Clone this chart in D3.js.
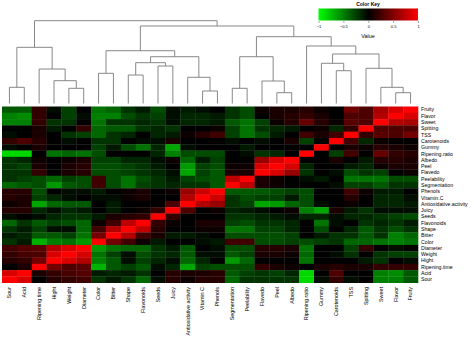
<!DOCTYPE html>
<html>
<head>
<meta charset="utf-8">
<script src="https://cdn.jsdelivr.net/npm/d3@7"></script>
<style>
  body { margin: 0; background: #fff; }
  svg { display: block; }
  text { font-family: "Liberation Sans", Arial, sans-serif; fill: #000; }
</style>
</head>
<body>
<svg id="chart" width="474" height="342"></svg>
<script>
// Traits in clustered column order (left to right)
const traits = ["Sour", "Acid", "Ripening time", "Hight", "Weight", "Diameter", "Color", "Bitter",
  "Shape", "Flavonoids", "Seeds", "Juicy", "Antioxidative activity", "Vitamin C", "Phenols",
  "Segmentation", "Peelability", "Flavedo", "Peel", "Albedo", "Ripening ratio", "Gummy",
  "Carotenoids", "TSS", "Spitting", "Sweet", "Flavor", "Fruity"];

// Row labels, top to bottom (reverse trait order)
const rowLabels = ["Fruity", "Flavor", "Sweet", "Spitting", "TSS", "Carotenoids", "Gummy",
  "Ripening.ratio", "Albedo", "Peel", "Flavedo", "Peelability", "Segmentation", "Phenols",
  "Vitamin.C", "Antioxidative.activity", "Juicy", "Seeds", "Flavonoids", "Shape", "Bitter",
  "Color", "Diameter", "Weight", "Hight", "Ripening.time", "Acid", "Sour"];

// Lower triangle of the correlation matrix (trait order); diagonal = 1
const corrLower = [
  [],
  [0.85],
  [0, 0.1],
  [0.15, 0.2, 0.45],
  [0.2, 0.28, 0.3, 0.85],
  [0.25, 0.32, 0.35, 0.7, 0.85],
  [-0.2, -0.1, -0.7, -0.5, -0.45, -0.6],
  [-0.1, -0.15, -0.35, -0.35, -0.25, -0.45, 0.45],
  [-0.2, -0.1, -0.25, -0.05, -0.05, -0.4, 0.25, 0.7],
  [-0.4, -0.2, -0.35, -0.25, -0.3, -0.4, 0.05, 0.25, 0.75],
  [-0.05, 0, -0.05, -0.15, -0.2, -0.2, -0.1, 0.1, 0.15, 0.2],
  [0.15, 0.15, -0.15, -0.05, -0.15, -0.1, 0, -0.1, 0, 0.05, 0.2],
  [0.05, 0.1, -0.65, -0.4, -0.35, -0.35, 0, -0.1, 0, 0, 0, 0.3],
  [0.15, 0.1, -0.25, -0.15, -0.05, 0, -0.05, -0.05, 0.05, 0.1, 0, 0, 0.7],
  [0.15, 0.15, -0.3, 0, -0.05, -0.05, -0.1, 0, 0.05, 0.1, 0, 0.05, 0.6, 0.8],
  [-0.4, -0.35, -0.3, -0.6, -0.35, -0.3, 0.25, -0.3, -0.45, -0.25, -0.2, -0.15, -0.2, -0.2, -0.35],
  [-0.2, -0.25, -0.3, -0.4, -0.25, -0.3, 0.25, -0.3, -0.45, -0.3, -0.2, -0.1, -0.25, -0.3, -0.35, 0.75],
  [-0.2, -0.2, 0.2, 0, 0.1, 0.15, -0.3, -0.3, -0.25, -0.2, -0.15, -0.05, -0.65, -0.25, -0.35, 0.1, 0.1],
  [-0.2, -0.25, 0.1, 0, 0.1, 0.15, -0.3, -0.3, -0.25, -0.2, -0.1, 0, -0.6, -0.25, -0.3, 0.05, 0.05, 0.85],
  [-0.2, -0.15, 0.05, 0, 0.05, 0.1, -0.25, -0.25, -0.15, -0.15, -0.05, 0.05, -0.4, -0.1, -0.25, 0, 0, 0.6, 0.85],
  [-0.85, -0.85, 0, -0.45, -0.4, -0.45, -0.3, 0, 0, 0, -0.15, -0.5, -0.3, -0.3, -0.3, 0, -0.05, -0.2, -0.15, 0],
  [-0.05, 0, 0.1, 0, 0, 0, -0.25, -0.1, -0.3, -0.45, -0.15, -0.65, -0.05, 0, 0, 0, -0.1, 0, 0, 0, 0],
  [0.2, 0.3, 0.15, 0, -0.05, 0, -0.2, -0.2, 0, -0.05, -0.05, 0.1, 0, 0, 0, -0.05, 0, -0.05, 0, 0.1, -0.25, 0],
  [-0.05, 0, 0.1, 0, -0.2, -0.25, -0.4, -0.2, -0.15, 0, -0.15, -0.1, 0.05, 0.15, 0.25, -0.25, -0.45, -0.3, -0.1, 0, 0.25, 0.1, 0.25],
  [0, 0, 0.1, -0.1, 0, 0.2, -0.4, -0.35, -0.35, -0.2, -0.15, -0.2, 0, 0, 0.05, -0.25, -0.45, -0.2, -0.15, -0.1, 0, 0.05, -0.15, 0.2],
  [-0.5, -0.5, 0.2, -0.2, -0.2, 0, -0.45, -0.2, -0.2, -0.15, -0.2, -0.05, -0.15, -0.15, -0.1, -0.35, -0.45, -0.25, 0.05, 0.15, 0.4, 0.15, 0.05, 0.35, 0.3],
  [-0.5, -0.55, 0.2, 0, -0.25, -0.05, -0.5, -0.5, -0.3, -0.2, -0.25, -0.05, -0.15, -0.15, -0.1, -0.2, -0.3, 0, 0.1, 0.15, 0.2, 0.1, 0, 0.3, 0.3, 0.7],
  [-0.35, -0.35, 0.2, -0.05, -0.25, 0, -0.45, -0.4, -0.2, -0.1, -0.3, -0.05, -0.1, -0.05, 0, -0.2, -0.3, 0.05, 0.1, 0.1, 0.15, 0.05, 0, 0.45, 0.3, 0.65, 0.85]
];

// Column dendrogram: [merge height, left, right]; numbers are trait indices
const colTree = [2.0,
  [1.357, [0.391, 0, 1], [0.833, 2, [0.551, 3, [0.367, 4, 5]]]],
  [1.872,
    [1.275, [0.729, 6, 7],
      [1.13, [0.986, [0.688, 8, 9], [0.906, 10, 11]], [0.633, 12, [0.302, 13, 14]]]],
    [1.614,
      [1.13, [0.367, 15, 16], [0.543, 17, [0.261, 18, 19]]],
      [1.389, 20, [1.196, [0.971, 21, [0.792, 22, 23]], [0.85, 24, [0.391, 25, [0.261, 26, 27]]]]]]]];

const keyTicks = [-1, -0.5, 0, 0.5, 1];

const svg = d3.select("#chart");
const n = traits.length;

// full symmetric matrix from the stored triangle
const corr = d3.range(n).map(i => d3.range(n).map(j =>
  i === j ? 1 : (i > j ? corrLower[i][j] : corrLower[j][i])));

const color = d3.scaleLinear().domain([-1, 0, 1]).range(["#00ff00", "#000000", "#ff0000"]);

const x = d3.scaleBand().domain(d3.range(n)).range([2, 418]);
const y = d3.scaleBand().domain(rowLabels).range([106.5, 282.7]);

// heatmap cells
const cells = [];
rowLabels.forEach((lab, r) => {
  const ti = n - 1 - r;
  d3.range(n).forEach(c => cells.push({ row: lab, col: c, v: corr[ti][c] }));
});
svg.append("g").selectAll("rect").data(cells).join("rect")
  .attr("x", d => x(d.col))
  .attr("y", d => y(d.row))
  .attr("width", x.bandwidth() + 0.3)
  .attr("height", y.bandwidth() + 0.3)
  .attr("fill", d => color(d.v));

// row labels
svg.append("g").selectAll("text").data(rowLabels).join("text")
  .attr("x", 421)
  .attr("y", d => y(d) + y.bandwidth() / 2)
  .attr("dy", "0.35em")
  .style("font-size", "5.2px")
  .text(d => d);

// column labels (vertical)
svg.append("g").selectAll("text").data(traits).join("text")
  .attr("transform", (d, i) => `translate(${x(i) + x.bandwidth() / 2},287) rotate(-90)`)
  .attr("dy", "0.35em")
  .attr("text-anchor", "end")
  .style("font-size", "5.4px")
  .text(d => d);

// dendrogram
const root = d3.hierarchy(colTree, d => Array.isArray(d) ? d.slice(1) : null);
const hY = d3.scaleLinear().domain([0, 2.0]).range([103.5, 20.7]);
root.eachAfter(node => {
  node.h = Array.isArray(node.data) ? node.data[0] : 0;
  node.px = node.children ? d3.mean(node.children, c => c.px) : x(node.data) + x.bandwidth() / 2;
});
const segs = [];
root.each(node => {
  if (!node.children) return;
  const [a, b] = node.children;
  segs.push([a.px, hY(node.h), b.px, hY(node.h)]);
  node.children.forEach(c => segs.push([c.px, hY(node.h), c.px, hY(c.h)]));
});
svg.append("g").selectAll("line").data(segs).join("line")
  .attr("x1", d => d[0]).attr("y1", d => d[1])
  .attr("x2", d => d[2]).attr("y2", d => d[3])
  .attr("stroke", "#7a7a7a").attr("stroke-width", 0.9);

// color key
const kx = d3.scaleLinear().domain([-1, 1]).range([318.5, 418]);
const defs = svg.append("defs");
const grad = defs.append("linearGradient").attr("id", "keygrad");
d3.range(0, 1.0001, 0.05).forEach(t => {
  grad.append("stop").attr("offset", t).attr("stop-color", color(-1 + 2 * t));
});
svg.append("rect").attr("x", kx(-1)).attr("y", 8.5)
  .attr("width", kx(1) - kx(-1)).attr("height", 12)
  .attr("fill", "url(#keygrad)");
const kAxis = svg.append("g").attr("transform", "translate(0,21)")
  .call(d3.axisBottom(kx).tickValues(keyTicks).tickSize(2).tickFormat(d3.format("")));
kAxis.select(".domain").remove();
kAxis.selectAll("line").attr("stroke", "#555").attr("stroke-width", 0.5);
kAxis.selectAll("text").style("font-size", "4px").attr("dy", "0.6em")
  .style("font-family", "'Liberation Sans', Arial, sans-serif");
svg.append("text").attr("x", 368).attr("y", 6).attr("text-anchor", "middle")
  .style("font-size", "5px").style("font-weight", "bold").text("Color Key");
svg.append("text").attr("x", 368).attr("y", 38).attr("text-anchor", "middle")
  .style("font-size", "5.5px").text("Value");
</script>
</body>
</html>
